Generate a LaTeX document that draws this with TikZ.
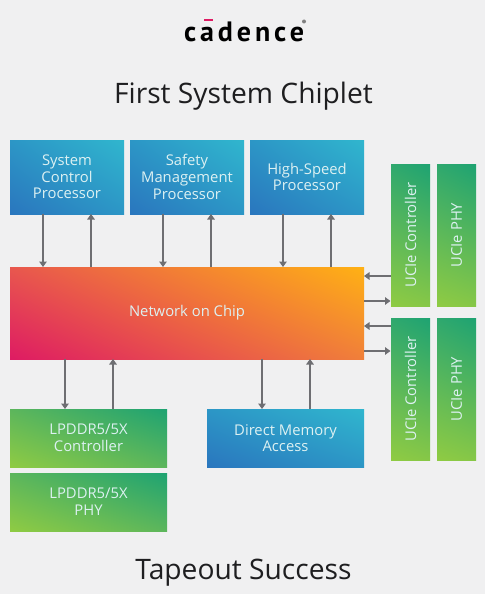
\documentclass[tikz,border=0pt]{standalone}
\usepackage{fontspec}
\setmainfont{Open Sans}
\newfontfamily\logofont[LetterSpace=14]{PT Sans Bold}
\usetikzlibrary{arrows.meta,shadings}
\definecolor{bgc}{HTML}{F0F0F1}
\definecolor{arrc}{HTML}{6E6E72}
\definecolor{txtc}{HTML}{1E1E20}
\definecolor{boxtxt}{HTML}{DDF1F2}
\tikzset{
  x=1pt,y=-1pt,
  arr/.style={draw=arrc,line width=1.3pt,-{Triangle[width=7.5pt,length=5.5pt]}},
  box/.style={inner sep=0pt,outer sep=0pt,align=center,text=boxtxt,font=\fontsize{14.8}{16.6}\selectfont},
  title/.style={inner sep=0pt,text=txtc,font=\fontsize{28.2}{32}\selectfont},
  blue/.style={box,lower left=blueLL,upper right=blueUR,upper left=blueM,lower right=blueM},
  green/.style={box,lower left=greenLL,upper right=greenUR,upper left=greenM,lower right=greenM},
  ucie/.style={box,rotate=90,minimum width=142pt,minimum height=39pt,
    lower left=greenLL,lower right=greenLM,upper left=greenUM,upper right=greenUR},
}
\definecolor{blueLL}{HTML}{2A76BE}
\definecolor{blueUR}{HTML}{30B6CE}
\definecolor{blueM}{HTML}{2C96C6}
\definecolor{greenLL}{HTML}{8FCB43}
\definecolor{greenUR}{HTML}{1EA372}
\definecolor{greenM}{HTML}{5CB65C}
\definecolor{greenLM}{HTML}{86C747}
\definecolor{greenUM}{HTML}{2FA86E}
\definecolor{nocLL}{HTML}{DE1B63}
\definecolor{nocUR}{HTML}{FFB114}
\definecolor{nocUL}{HTML}{E8574E}
\definecolor{nocLR}{HTML}{F07F3A}
\begin{document}
\begin{tikzpicture}
\fill[bgc] (0,0) rectangle (485,594);
\useasboundingbox (0,0) rectangle (485,594);
% logo
\node[inner sep=0pt,text=black,font=\logofont\fontsize{28}{30}\selectfont,anchor=base] (logo) at (244,42) {cadence};
\fill[nocLL] (204,19.5) rectangle (213,21.5);
\fill[gray] (304,21.5) circle (2pt);
% titles
\node[title] (t1) at (243.5,96) {First System Chiplet};
\node[title] (t2) at (243.5,573) {Tapeout Success};
% processors
\node[blue,minimum width=114pt,minimum height=74pt] (scp) at (67,177) {System\\Control\\Processor};
\node[blue,minimum width=114pt,minimum height=74pt] (smp) at (187,177) {Safety\\Management\\Processor};
\node[blue,minimum width=114pt,minimum height=74pt] (hsp) at (307,177) {High-Speed\\Processor};
% noc
\node[box,minimum width=354pt,minimum height=92pt,lower left=nocLL,upper right=nocUR,upper left=nocUL,lower right=nocLR] (noc) at (187,313) {Network on Chip};
% lower
\node[green,minimum width=157pt,minimum height=58pt] (lc) at (88.5,438) {LPDDR5/5X\\Controller};
\node[green,minimum width=157pt,minimum height=58pt] (lp) at (88.5,502) {LPDDR5/5X\\PHY};
\node[blue,minimum width=157pt,minimum height=58pt] (dma) at (285.5,438) {Direct Memory\\Access};
% ucie
\node[ucie] (u1) at (410.5,235) {UCIe Controller};
\node[ucie] (p1) at (456.5,235) {UCIe PHY};
\node[ucie] (u2) at (410.5,389) {UCIe Controller};
\node[ucie] (p2) at (456.5,389) {UCIe PHY};
% connector positions
\foreach \n/\x in {a/43,b/91,c/163,d/211,e/283,f/331,g/65,h/113,i/262,j/310}
  \coordinate (x\n) at (\x,300);
\foreach \n/\y in {k/276,l/301,m/326,n/351}
  \coordinate (y\n) at (400,\y);
\draw[arr] (xa |- scp.south) -- (xa |- noc.north);
\draw[arr] (xb |- noc.north) -- (xb |- scp.south);
\draw[arr] (xc |- smp.south) -- (xc |- noc.north);
\draw[arr] (xd |- noc.north) -- (xd |- smp.south);
\draw[arr] (xe |- hsp.south) -- (xe |- noc.north);
\draw[arr] (xf |- noc.north) -- (xf |- hsp.south);
\draw[arr] (xg |- noc.south) -- (xg |- lc.north);
\draw[arr] (xh |- lc.north) -- (xh |- noc.south);
\draw[arr] (xi |- noc.south) -- (xi |- dma.north);
\draw[arr] (xj |- dma.north) -- (xj |- noc.south);
\coordinate (ue) at (390.5,300);
\draw[arr] (yk -| ue) -- (yk -| noc.east);
\draw[arr] (yl -| noc.east) -- (yl -| ue);
\draw[arr] (ym -| ue) -- (ym -| noc.east);
\draw[arr] (yn -| noc.east) -- (yn -| ue);
\end{tikzpicture}
\end{document}
